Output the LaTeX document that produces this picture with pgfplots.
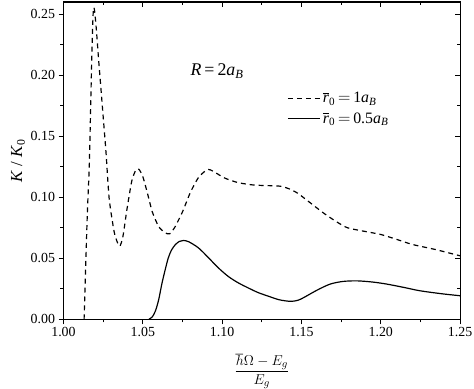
\documentclass[border=0pt]{standalone}
\usepackage{amsmath}
\usepackage{pgfplots}
\pgfplotsset{compat=1.18}
\usepackage{fontspec}
\setmainfont{Liberation Serif}
\begin{document}
\begin{tikzpicture}
\pgfplotsset{
  common/.style={
    width=400pt, height=320pt, scale only axis,
    xmin=1.0, xmax=1.25, ymin=0, ymax=0.26,
    xtick={1.00,1.05,...,1.25}, ytick={0,0.05,...,0.25},
    minor x tick num=1, minor y tick num=1,
    axis line style={line width=1.2pt},
    major tick length=5pt, minor tick length=3pt,
    every tick/.style={black, line width=1pt},
  }
}
\begin{axis}[common,
  xtick pos=bottom, ytick pos=left, tick align=outside,
  /pgf/number format/assume math mode=true,
  /pgf/number format/fixed, /pgf/number format/fixed zerofill, /pgf/number format/precision=2,
  ticklabel style={font=\fontsize{14}{15}\selectfont},
  xlabel={\fontsize{15}{17}\selectfont$\dfrac{\hbar\Omega - E_g}{E_g}$},
  xlabel style={yshift=-10pt},
  ylabel={\fontsize{17}{19}\selectfont\textit{K} / \textit{K}\textsubscript{0}},
  ylabel style={yshift=-1pt},
  legend style={draw=none, fill=none, at={(axis cs:1.141,0.188)}, anchor=north west,
    font=\fontsize{16}{18}\selectfont, row sep=4pt, inner sep=0pt},
  legend cell align=left,
  legend image code/.code={\draw[#1] (0cm,0cm) -- (1.15cm,0cm);},
]
\addplot[black, line width=1.2pt, dash pattern=on 5pt off 4pt, smooth, tension=0.4] coordinates {
(1.0130,0) (1.0150,0.085) (1.0163,0.127) (1.0175,0.195) (1.0183,0.236) (1.0189,0.255)
(1.0196,0.253) (1.0207,0.238) (1.0222,0.212) (1.0246,0.173) (1.0268,0.137) (1.0288,0.099)
(1.0319,0.072) (1.0340,0.063) (1.0356,0.060) (1.0375,0.068) (1.0400,0.090) (1.0430,0.113)
(1.0455,0.122) (1.0475,0.123) (1.0500,0.117) (1.0530,0.103) (1.0560,0.088) (1.0600,0.076)
(1.0640,0.071) (1.0669,0.070) (1.0700,0.075) (1.0750,0.088) (1.0800,0.104) (1.0850,0.116)
(1.0900,0.1222) (1.0925,0.1225) (1.0960,0.120) (1.1017,0.1157) (1.1100,0.112) (1.1200,0.110)
(1.1300,0.1095) (1.1370,0.109) (1.1420,0.107) (1.1475,0.1034) (1.1550,0.096) (1.1640,0.087)
(1.1720,0.080) (1.1790,0.075) (1.1900,0.072) (1.2000,0.0695) (1.2100,0.0655) (1.2200,0.0613)
(1.2350,0.057) (1.2500,0.052)
};
\addlegendentry{$\overline{\textit{r}}_{\text{0}}\,{=}\,\text{1}\textit{a}_{\textit{B}}$}
\addplot[black, line width=1.2pt, smooth, tension=0.5] coordinates {
(1.0538,0) (1.0560,0.002) (1.0580,0.007) (1.0600,0.016) (1.0620,0.029) (1.0640,0.040)
(1.0660,0.050) (1.0680,0.0565) (1.0704,0.061) (1.0730,0.0638) (1.0756,0.0646) (1.0790,0.0635)
(1.0850,0.0586) (1.0910,0.051) (1.0975,0.0423) (1.1040,0.035) (1.1100,0.030) (1.1160,0.026)
(1.1225,0.022) (1.1290,0.0190) (1.1360,0.0160) (1.1433,0.0147) (1.1480,0.0157) (1.1517,0.018)
(1.1600,0.024) (1.1680,0.0288) (1.1760,0.031) (1.1850,0.0315) (1.1950,0.0305) (1.2040,0.0288)
(1.2150,0.026) (1.2246,0.0234) (1.2380,0.021) (1.2500,0.0193)
};
\addlegendentry{$\overline{\textit{r}}_{\text{0}}\,{=}\,\text{0.5}\textit{a}_{\textit{B}}$}
\node[anchor=base west, inner sep=0pt, font=\fontsize{18}{20}\selectfont] at (axis cs:1.080,0.1995) {\textit{R}\,=\,2\textit{a}\textsubscript{\textit{B}}};
\end{axis}
\begin{scope}[overlay]
\begin{axis}[common,
  xtick pos=top, ytick pos=right, tick align=inside,
  xticklabels={}, yticklabels={},
]
\end{axis}
\end{scope}
\pgfresetboundingbox
\path (current axis.south west) ++(-64pt,-70pt) coordinate (bbA);
\path (current axis.north east) ++(14pt,2pt) coordinate (bbB);
\useasboundingbox (bbA) rectangle (bbB);
\end{tikzpicture}
\end{document}
